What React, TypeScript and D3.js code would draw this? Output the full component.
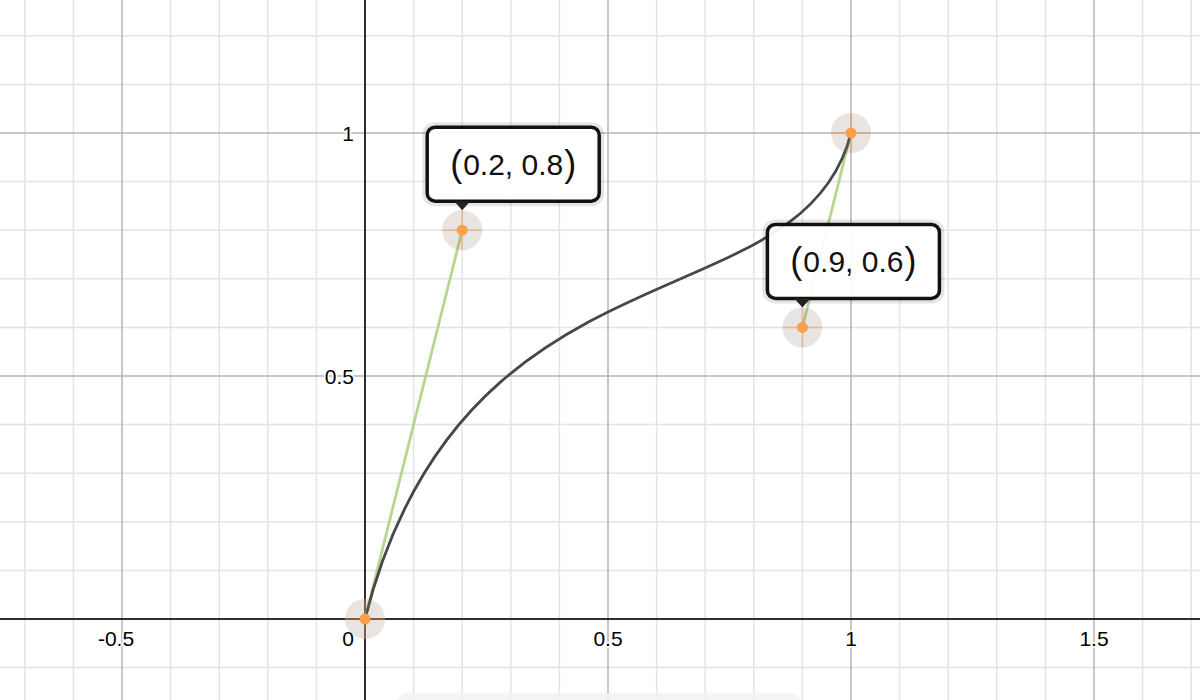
import React from "react";
import * as d3 from "d3";

// ---- data ----
const controlX = [0, 0.2, 0.9, 1];
const controlY = [0, 0.8, 0.6, 1];
const xTickValues = [-0.5, 0, 0.5, 1, 1.5];
const xTickLabels = ["-0.5", "0", "0.5", "1", "1.5"];
const yTickValues = [0.5, 1];
const yTickLabels = ["0.5", "1"];
const calloutIndex = [1, 2];
const calloutLabels = ["0.2, 0.8", "0.9, 0.6"];

const W = 1200;
const H = 700;
const FONT = "'Liberation Sans', Arial, Helvetica, sans-serif";

export default function App() {
  const x = d3.scaleLinear().domain([0, 1]).range([365, 851]);
  const y = d3.scaleLinear().domain([0, 1]).range([619, 133]);

  const [xMin, xMax] = [x.invert(0), x.invert(W)];
  const [yMin, yMax] = [y.invert(H), y.invert(0)];
  const minorX = d3.range(Math.ceil(xMin * 10), Math.floor(xMax * 10) + 1).map((v) => v / 10);
  const minorY = d3.range(Math.ceil(yMin * 10), Math.floor(yMax * 10) + 1).map((v) => v / 10);
  const isMajor = (v: number) => Math.abs(v * 2 - Math.round(v * 2)) < 1e-6;

  const curve = d3.path();
  curve.moveTo(x(controlX[0]), y(controlY[0]));
  curve.bezierCurveTo(
    x(controlX[1]), y(controlY[1]),
    x(controlX[2]), y(controlY[2]),
    x(controlX[3]), y(controlY[3])
  );

  const line = d3
    .line<number>()
    .x((i) => x(controlX[i]))
    .y((i) => y(controlY[i]));

  const haloR = 20;

  return (
    <svg
      width={W}
      height={H}
      style={{ position: "fixed", left: 0, top: 0, background: "#fff" }}
    >
      {/* minor grid */}
      <g>
        {minorX.filter((v) => !isMajor(v)).map((v) => (
          <line key={"mx" + v} x1={x(v)} x2={x(v)} y1={0} y2={H} stroke="#e4e4e4" strokeWidth={1.5} />
        ))}
        {minorY.filter((v) => !isMajor(v)).map((v) => (
          <line key={"my" + v} y1={y(v)} y2={y(v)} x1={0} x2={W} stroke="#e4e4e4" strokeWidth={1.5} />
        ))}
      </g>
      {/* major grid */}
      <g>
        {minorX.filter((v) => isMajor(v) && Math.abs(v) > 1e-6).map((v) => (
          <line key={"Mx" + v} x1={x(v)} x2={x(v)} y1={0} y2={H} stroke="#b4b4b4" strokeWidth={1.5} />
        ))}
        {minorY.filter((v) => isMajor(v) && Math.abs(v) > 1e-6).map((v) => (
          <line key={"My" + v} y1={y(v)} y2={y(v)} x1={0} x2={W} stroke="#b4b4b4" strokeWidth={1.5} />
        ))}
      </g>
      {/* axes */}
      <line x1={x(0)} x2={x(0)} y1={0} y2={H} stroke="#2e2e2e" strokeWidth={2} />
      <line y1={y(0)} y2={y(0)} x1={0} x2={W} stroke="#2e2e2e" strokeWidth={2} />

      {/* faint card at bottom */}
      <rect x={395} y={693} width={408} height={40} rx={14} fill="#f2f2f2" opacity={0.85} />

      {/* tick labels */}
      <g fontFamily={FONT} fontSize={21} fill="#000" stroke="#fff" strokeWidth={3} paintOrder="stroke" strokeLinejoin="round">
        {xTickValues.map((v, i) =>
          v === 0 ? (
            <text key={"xl" + i} x={x(0) - 11} y={y(0) + 27} textAnchor="end">
              {xTickLabels[i]}
            </text>
          ) : (
            <text key={"xl" + i} x={x(v) - (v < 0 ? 6 : 0)} y={y(0) + 27} textAnchor="middle">
              {xTickLabels[i]}
            </text>
          )
        )}
        {yTickValues.map((v, i) => (
          <text key={"yl" + i} x={x(0) - 11} y={y(v) + 8} textAnchor="end">
            {yTickLabels[i]}
          </text>
        ))}
      </g>

      {/* control handles */}
      <path d={line([0, 1]) || ""} stroke="#b5d288" strokeWidth={2.8} fill="none" opacity={0.95} />
      <path d={line([2, 3]) || ""} stroke="#b5d288" strokeWidth={2.8} fill="none" opacity={0.95} />

      {/* bezier curve */}
      <path d={curve.toString()} stroke="#474747" strokeWidth={2.8} fill="none" />

      {/* points */}
      {controlX.map((cx, i) => {
        const px = x(cx);
        const py = y(controlY[i]);
        return (
          <g key={"pt" + i}>
            <circle cx={px} cy={py} r={haloR} fill="#8a7a6a" opacity={0.2} />
            <line x1={px - haloR} x2={px + haloR} y1={py} y2={py} stroke="#f7a050" strokeWidth={1.5} opacity={0.45} />
            <line y1={py - haloR} y2={py + haloR} x1={px} x2={px} stroke="#f7a050" strokeWidth={1.5} opacity={0.45} />
            <circle cx={px} cy={py} r={5.5} fill="#fb9f4a" />
          </g>
        );
      })}

      {/* callouts */}
      {calloutIndex.map((idx, k) => {
        const px = x(controlX[idx]);
        const py = y(controlY[idx]);
        const bw = 172;
        const bh = 74;
        const bx = px - 35;
        const by = py - 29 - bh;
        return (
          <g key={"co" + k}>
            <rect x={bx - 2.5} y={by - 2.5} width={bw + 5} height={bh + 5} rx={10} fill="none" stroke="#000" strokeOpacity={0.1} strokeWidth={5} />
            <rect x={bx} y={by} width={bw} height={bh} rx={8} fill="#fff" fillOpacity={0.93} stroke="#111" strokeWidth={3.5} />
            <path
              d={`M${px - 8},${py - 29} L${px + 8},${py - 29} L${px},${py - 20} Z`}
              fill="#222"
            />
            <text
              x={bx + bw / 2}
              y={by + bh / 2 + 11}
              textAnchor="middle"
              fontFamily={FONT}
              fontSize={30}
              fill="#111"
            >
              <tspan fontSize={36} dy={1} fontWeight={300}>(</tspan>
              <tspan dy={-1} dx={1}>{calloutLabels[k]}</tspan>
              <tspan fontSize={36} dy={1} dx={1} fontWeight={300}>)</tspan>
            </text>
          </g>
        );
      })}
    </svg>
  );
}
